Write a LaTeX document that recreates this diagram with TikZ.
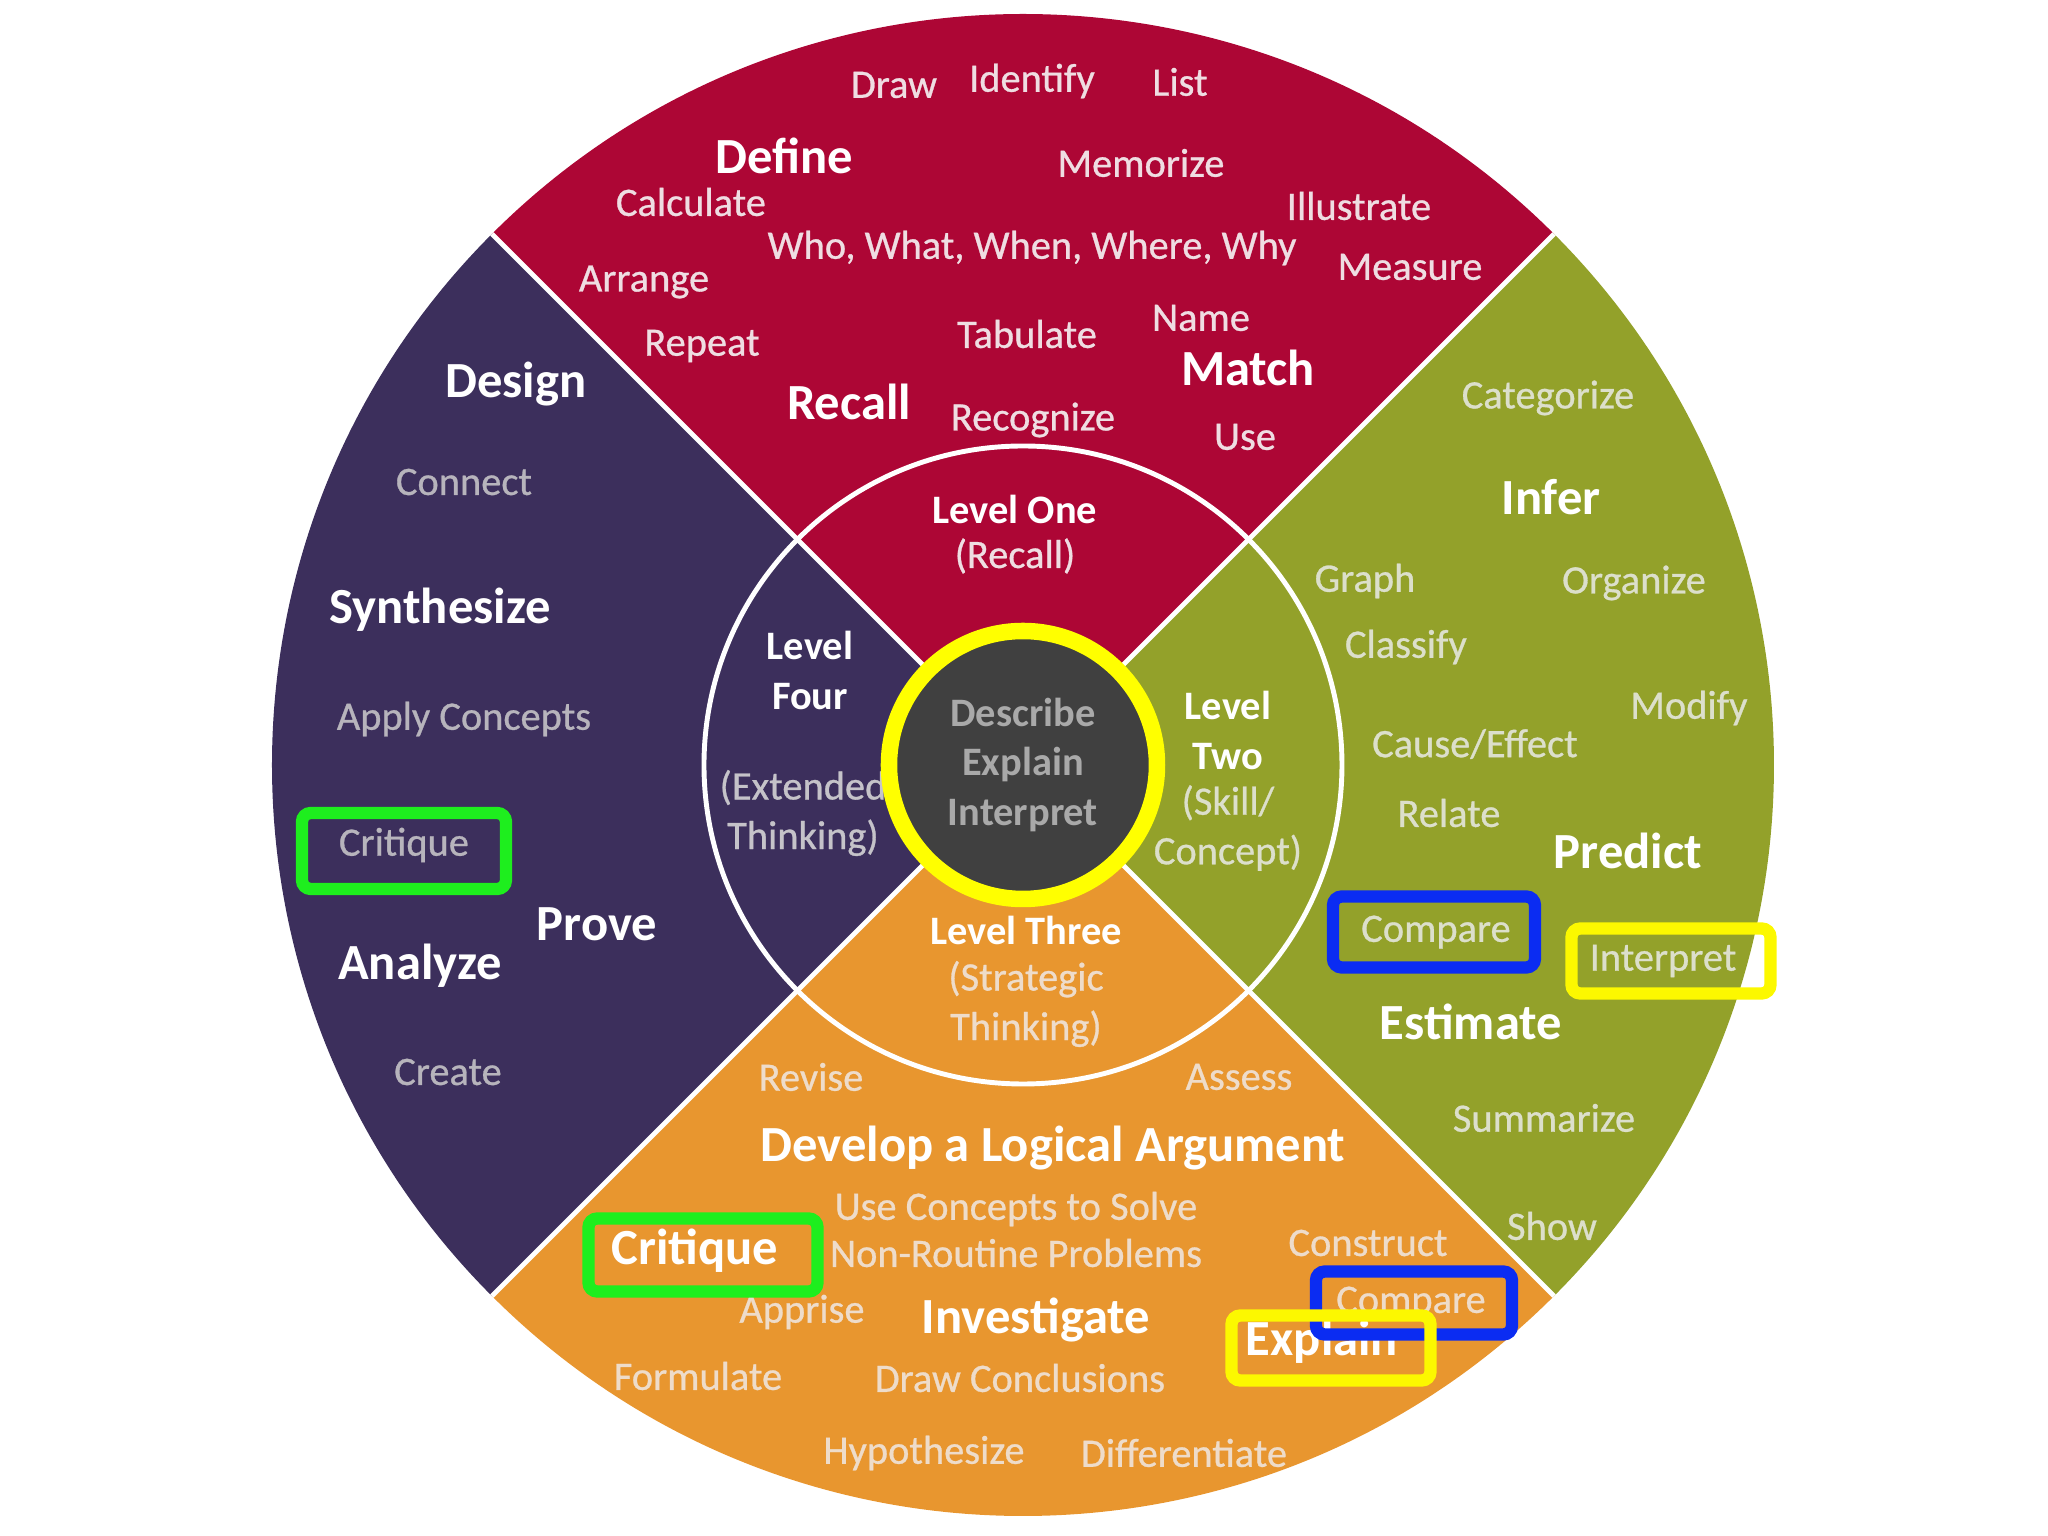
\documentclass[tikz,border=0pt]{standalone}
\usepackage{fontspec}
\setmainfont{Carlito}
\newfontfamily\wordfont[FakeBold=0.7]{Carlito}
\definecolor{RecallRed}{HTML}{AD0635}
\definecolor{ExtPurple}{HTML}{3C2F5C}
\definecolor{SkillGreen}{HTML}{93A12A}
\definecolor{StratOrange}{HTML}{E8962F}
\definecolor{RecallTxt}{HTML}{EFDDE2}
\definecolor{ExtTxt}{HTML}{B7B4BC}
\definecolor{SkillTxt}{HTML}{DCDFCB}
\definecolor{StratTxt}{HTML}{EEDCCA}
\definecolor{CoreGrey}{HTML}{404040}
\definecolor{CoreTxt}{HTML}{A9A9A9}
\definecolor{RingYellow}{HTML}{FFFF00}
\definecolor{HiGreen}{HTML}{1EEE1E}
\definecolor{HiBlue}{HTML}{0B2CF2}
\definecolor{HiYellow}{HTML}{FCF800}
\tikzset{
  wd/.style={inner sep=0pt,align=center,font=\wordfont\fontsize{11.5}{13.4}\selectfont},
  redw/.style={wd,text=RecallTxt},
  purw/.style={wd,text=ExtTxt},
  grnw/.style={wd,text=SkillTxt},
  orgw/.style={wd,text=StratTxt},
  kw/.style={inner sep=0pt,font=\fontsize{14.4}{17}\selectfont\bfseries,text=white},
  lvl/.style={inner sep=0pt,align=center,font=\fontsize{11.5}{14.1}\selectfont\bfseries,text=white},
  lvs/.style={inner sep=0pt,align=center,font=\wordfont\fontsize{11.5}{14.1}\selectfont},
  sep/.style={draw=white,line width=1.4pt},
  hlbox/.style={rectangle,draw,line width=3.5pt,rounded corners=2.5pt,inner sep=0pt},
}
\begin{document}
\begin{tikzpicture}
\useasboundingbox (-10.23,-7.71) rectangle (10.25,7.65);
% Quadrant wedges, turned by 45 degrees.
\foreach \a/\c in {45/RecallRed,135/ExtPurple,225/StratOrange,315/SkillGreen}
  \fill[\c] (0,0) -- (\a:7.51) arc[start angle=\a,end angle=\a+90,radius=7.51] -- cycle;
\foreach \a in {45,135,225,315}
  \draw[sep] (0,0) -- (\a:7.51);
\draw[sep] (0,0) circle[radius=3.19];
% Level One (Recall)
\node[redw] (drawR) at (-1.29,6.80) {Draw};
\node[redw] (identR) at (0.09,6.84) {Identify};
\node[redw] (listR) at (1.57,6.83) {List};
\node[kw] (defineR) at (-2.39,6.09) {Define};
\node[redw] (memoR) at (1.18,6.02) {Memorize};
\node[redw] (calcR) at (-3.32,5.63) {Calculate};
\node[redw] (illuR) at (3.36,5.59) {Illustrate};
\node[redw] (whR) at (0.09,5.17) {Who, What, When, Where, Why};
\node[redw] (arrR) at (-3.79,4.83) {Arrange};
\node[redw] (measR) at (3.87,4.98) {Measure};
\node[redw] (repR) at (-3.21,4.19) {Repeat};
\node[redw] (tabR) at (0.04,4.31) {Tabulate};
\node[redw] (nameR) at (1.78,4.47) {Name};
\node[kw] (matchR) at (2.25,3.97) {Match};
\node[kw] (recallR) at (-1.74,3.63) {Recall};
\node[redw] (recogR) at (0.10,3.45) {Recognize};
\node[redw] (useR) at (2.22,3.28) {Use};
\node[lvl] (l1) at (-0.08,2.56) {Level One};
\node[lvs,text=RecallTxt] (l1s) at (-0.08,2.09) {(Recall)};
% Level Four (Extended Thinking)
\node[kw] (designP) at (-5.07,3.81) {Design};
\node[purw] (connP) at (-5.59,2.83) {Connect};
\node[kw] (synthP) at (-5.83,1.55) {Synthesize};
\node[purw] (applyP) at (-5.59,0.46) {Apply Concepts};
\node[purw] (critP) at (-6.19,-0.80) {Critique};
\node[kw] (proveP) at (-4.26,-1.59) {Prove};
\node[kw] (analP) at (-6.03,-2.01) {Analyze};
\node[purw] (createP) at (-5.75,-3.07) {Create};
\node[lvl] (l4) at (-2.13,0.945) {Level\\Four};
\node[lvs,text=ExtTxt!80!white] (l4s) at (-2.20,-0.48) {(Extended\\Thinking)};
% Level Two (Skill/Concept)
\node[grnw] (catG) at (5.25,3.67) {Categorize};
\node[kw] (inferG) at (5.28,2.68) {Infer};
\node[grnw] (graphG) at (3.42,1.84) {Graph};
\node[grnw] (orgG) at (6.11,1.82) {Organize};
\node[grnw] (classG) at (3.83,1.18) {Classify};
\node[grnw] (modG) at (6.66,0.57) {Modify};
\node[grnw] (causeG) at (4.52,0.21) {Cause/Effect};
\node[grnw] (relG) at (4.26,-0.48) {Relate};
\node[kw] (predG) at (6.05,-0.86) {Predict};
\node[grnw] (cmpG) at (4.13,-1.67) {Compare};
\node[grnw] (interpG) at (6.40,-1.96) {Interpret};
\node[kw] (estG) at (4.48,-2.57) {Estimate};
\node[grnw] (sumG) at (5.21,-3.53) {Summarize};
\node[grnw] (showG) at (5.29,-4.61) {Show};
\node[lvl] (l2) at (2.05,0.345) {Level\\Two};
\node[lvs,text=SkillTxt] (l2s) at (2.05,-0.63) {(Skill/\\Concept)};
% Level Three (Strategic Thinking)
\node[orgw] (revO) at (-2.12,-3.12) {Revise};
\node[orgw] (assO) at (2.16,-3.12) {Assess};
\node[kw] (devO) at (0.30,-3.83) {Develop a Logical Argument};
\node[orgw] (useO) at (-0.07,-4.645) {Use Concepts to Solve\\Non-Routine Problems};
\node[kw] (critO) at (-3.28,-4.86) {Critique};
\node[orgw] (consO) at (3.45,-4.78) {Construct};
\node[orgw] (cmpO) at (3.88,-5.38) {Compare};
\node[orgw] (appO) at (-2.21,-5.47) {Apprise};
\node[kw] (invO) at (0.13,-5.55) {Investigate};
\node[kw] (explO) at (2.99,-5.77) {Explain};
\node[orgw] (formO) at (-3.25,-6.11) {Formulate};
\node[orgw] (drawO) at (-0.03,-6.13) {Draw Conclusions};
\node[orgw] (hypO) at (-0.99,-6.88) {Hypothesize};
\node[orgw] (diffO) at (1.61,-6.88) {Differentiate};
\node[lvl] (l3) at (0.03,-1.65) {Level Three};
\node[lvs,text=StratTxt] (l3s) at (0.03,-2.39) {(Strategic\\Thinking)};
% Core disc with its ring.
\node[circle,fill=CoreGrey,draw=RingYellow,line width=4.7pt,minimum size=2.68cm,inner sep=0pt,
      align=center,text=CoreTxt,font=\fontsize{11.5}{14.1}\selectfont\bfseries] (core) at (0,0) {Describe\\Explain\\Interpret};
% Highlight frames.
\node[hlbox,draw=HiGreen,minimum width=2.04cm,minimum height=0.76cm] (critPbox) at ([yshift=-.06cm]critP) {};
\node[hlbox,draw=HiGreen,minimum width=2.29cm,minimum height=0.73cm] (critObox) at ([shift={(.08,-.04)}]critO) {};
\node[hlbox,draw=HiBlue,minimum width=2.02cm,minimum height=0.71cm] (cmpGbox) at ([xshift=-.02cm]cmpG) {};
\node[hlbox,draw=HiBlue,minimum width=1.96cm,minimum height=0.63cm] (cmpObox) at ([xshift=.03cm]cmpO) {};
\node[hlbox,draw=HiYellow,minimum width=1.99cm,minimum height=0.65cm] (interpGbox) at ([xshift=.08cm]interpG) {};
\node[hlbox,draw=HiYellow,minimum width=1.99cm,minimum height=0.65cm] (explObox) at ([shift={(.09,-.06)}]explO) {};
\end{tikzpicture}
\end{document}
